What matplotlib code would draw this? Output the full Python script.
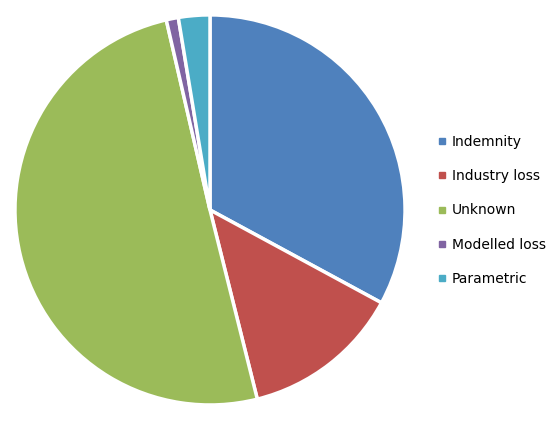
import matplotlib
matplotlib.use("Agg")
import matplotlib.pyplot as plt
from matplotlib.lines import Line2D

categories = ["Indemnity", "Industry loss", "Unknown", "Modelled loss", "Parametric"]
values = [32.9, 13.2, 50.3, 1.0, 2.6]
colors = ["#4F81BD", "#C0504D", "#9BBB59", "#8064A2", "#4BACC6"]

fig = plt.figure(figsize=(5.6, 4.25), dpi=100)
ax = fig.add_axes([0.375 - 0.352, 0.506 - 0.4635, 0.704, 0.927])
ax.pie(values, colors=colors, startangle=90, counterclock=False,
       wedgeprops=dict(edgecolor="white", linewidth=2.5))
ax.set_aspect("equal")
ax.set_xlim(-1.01, 1.01)
ax.set_ylim(-1.01, 1.01)
ax.axis("off")

handles = [Line2D([0], [0], marker="s", linestyle="none", markersize=5,
                  markerfacecolor=c, markeredgecolor=c) for c in colors]
fig.legend(handles, categories, loc="center left", bbox_to_anchor=(0.755, 0.505),
           frameon=False, fontsize=10, handletextpad=0.2, labelspacing=1.45,
           handlelength=1.0)
fig.savefig("out.png", dpi=100)
